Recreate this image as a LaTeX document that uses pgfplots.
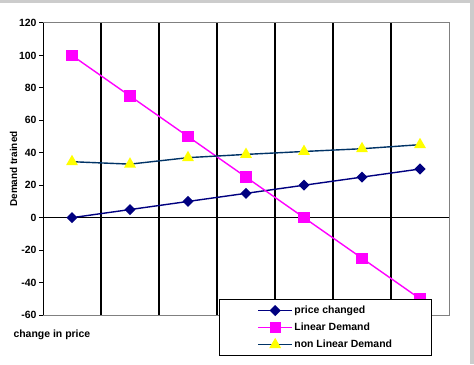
\documentclass[border=0pt]{standalone}
\usepackage{fontspec}
\setmainfont{Liberation Sans}
\usepackage{pgfplots}
\pgfplotsset{compat=1.18}
\definecolor{navyc}{RGB}{0,0,128}
\definecolor{magc}{RGB}{255,0,255}
\definecolor{tealc}{RGB}{0,51,102}
\definecolor{yelc}{RGB}{255,255,0}
\begin{document}
\begin{tikzpicture}[x=1bp,y=1bp]
\path[use as bounding box] (0,0) rectangle (474,364);
\fill[gray!40] (0,361) rectangle (474,364);
\fill[gray!40] (470,0) rectangle (474,364);
\begin{axis}[
  at={(43bp,49bp)}, anchor=south west, scale only axis,
  width=406bp, height=292bp,
  xmin=0.5, xmax=7.5, ymin=-60, ymax=120,
  ytick={-60,-40,...,120},
  xtick={1.5,2.5,...,6.5}, xticklabels={},
  major x tick style={draw=none},
  xmajorgrids, major x grid style={black, line width=1.2bp},
  axis line style={gray, line width=1bp},
  ytick pos=left, tick align=outside, major tick length=4bp,
  major y tick style={black, line width=1bp},
  /pgf/number format/assume math mode=true,
  y tick label style={font=\bfseries\fontsize{10.5}{11}\selectfont, xshift=1bp},
  ylabel={Demand trained},
  ylabel shift=-5bp,
  ylabel style={font=\bfseries\fontsize{10}{11}\selectfont},
  legend style={at={(0.4335,0.0548)}, anchor=north west, draw=black, line width=1bp,
    fill=white, inner xsep=38bp, inner ysep=5bp, row sep=5bp,
    font=\bfseries\fontsize{10.5}{11}\selectfont,
    nodes={inner sep=1.5bp}},
  legend cell align=left,
  legend image code/.code={
    \draw[mark repeat=2,mark phase=2] plot coordinates {(0bp,0bp) (17bp,0bp) (34bp,0bp)};},
]
\draw[black, line width=1.2bp] (axis cs:0.5,0) -- (axis cs:7.5,0);
\draw[black, line width=1.2bp] (axis cs:0.5,-60) -- (axis cs:0.5,120);
\addplot[navyc, line width=1.4bp, mark=square*, mark size=3.2bp, mark options={rotate=45, fill=navyc, draw=navyc}]
  coordinates {(1,0) (2,5) (3,10) (4,15) (5,20) (6,25) (7,30)};
\addlegendentry{price changed}
\addplot[magc, line width=1.4bp, mark=square*, mark size=5bp, mark options={fill=magc, draw=magc}]
  coordinates {(1,100) (2,75) (3,50) (4,25) (5,0) (6,-25) (7,-50)};
\addlegendentry{Linear Demand}
\addplot[tealc, line width=1.4bp, mark=triangle*, mark size=5.5bp, mark options={fill=yelc, draw=yelc}]
  coordinates {(1,34.5) (2,33) (3,37) (4,39) (5,40.8) (6,42.5) (7,45)};
\addlegendentry{non Linear Demand}
\end{axis}
\node[anchor=west, font=\bfseries\fontsize{10.5}{11}\selectfont] at (10,29) {change in price};
\end{tikzpicture}
\end{document}
